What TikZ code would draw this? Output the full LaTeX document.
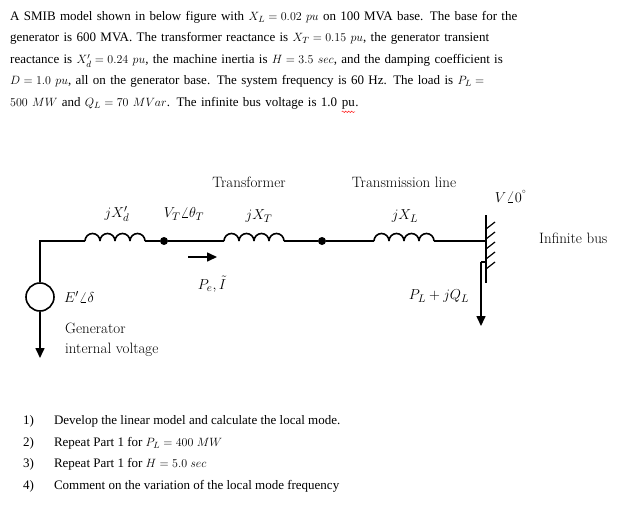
\documentclass[tikz,border=0pt]{standalone}
\usepackage{amsmath}
\usepackage{fontspec}
\setmainfont{Liberation Serif}
\newfontfamily\lmr{Latin Modern Roman}
\usetikzlibrary{arrows.meta,decorations.pathmorphing}
\tikzset{
  wire/.style={line width=1.6pt},
  lbl/.style={font=\lmr\fontsize{15}{17}\selectfont, inner sep=0pt},
  para/.style={font=\fontsize{13}{21.5}\selectfont, inner sep=0pt, align=left},
  dotn/.style={circle, fill=black, minimum size=8pt, inner sep=0pt},
  arr/.style={wire, -{Triangle[length=10pt,width=9pt]}},
  wavy/.style={red, decorate, decoration={snake, amplitude=0.8pt, segment length=3pt}}
}
\newcommand{\coil}[2]{% start x, y
  \foreach \k in {0,...,3}{\draw[wire] ({#1+\k*15},#2) arc[start angle=180,end angle=360,radius=7.5];}}
\begin{document}
\begin{tikzpicture}[x=1pt,y=-1pt]
\useasboundingbox (0,0) rectangle (627,517);
\node[para, anchor=north west, text width=607pt] (txt) at (10,11) {\thickmuskip=5mu\medmuskip=4mu\setlength{\parfillskip}{0pt plus 1fil}%
A SMIB model shown in below figure with $X_L=0.02\ pu$ on 100 MVA base. The base for the\linebreak
generator is 600 MVA. The transformer reactance is $X_T=0.15\ pu$, the generator transient\linebreak
reactance is $X_d'=0.24\ pu$, the machine inertia is $H=3.5\ sec$, and the damping coefficient is\linebreak
$D=1.0\ pu$, all on the generator base. The system frequency is 60 Hz. The load is $P_L=$\linebreak
$500\ MW$ and $Q_L=70\ MVar$. The infinite bus voltage is 1.0 \tikz[baseline=0pt]{\node[inner sep=0pt,anchor=base west](pu){pu};\draw[wavy] ([yshift=-2.5pt]pu.south west)--([yshift=-2.5pt]pu.south east);}.};
% circuit
\coordinate (gtop) at (40,241);
\node[circle, draw, line width=1.6pt, minimum size=28pt, inner sep=0pt] (gen) at (40,297) {};
\draw[wire] (gen.north) -- (gtop) -- (85,241);
\coil{85}{241}
\node[dotn] (d1) at (164,241) {};
\draw[wire] (145,241) -- (d1) -- (224,241);
\coil{224}{241}
\node[dotn] (d2) at (322,241) {};
\draw[wire] (284,241) -- (d2) -- (374,241);
\coil{374}{241}
\coordinate (bt) at (486,215);
\coordinate (bb) at (486,283);
\draw[wire] (434,241) -- (486,241);
\draw[wire] (bt) -- (bb);
\foreach \yy in {222,232,242,252,262}{\draw[line width=1.2pt] (486,\yy+7) -- (495,\yy);}
\coordinate (lc) at (481,262);
\coordinate (le) at (481,326);
\draw[wire] (486,262) -- (lc);
\draw[arr] (lc) -- (le);
\coordinate (ge) at (40,358);
\draw[arr] (gen.south) -- (ge);
\coordinate (pa) at (188,257);
\coordinate (pb) at (217,257);
\draw[arr] (pa) -- (pb);
% labels
\node[lbl] (tl) at (249,182) {Transformer};
\node[lbl] (tll) at (404,182) {Transmission line};
\node[lbl] (vb) at (511,196) {$V\angle 0^{^\circ}$};
\node[lbl, anchor=west] (ib) at (539,238) {Infinite bus};
\node[lbl] (lxd) at (117,214) {$jX_d'$};
\node[lbl] (lvt) at (184,214) {$V_T\angle\theta_T$};
\node[lbl] (lxt) at (259,216) {$jX_T$};
\node[lbl] (lxl) at (405,216) {$jX_L$};
\node[lbl, anchor=west] (le2) at (64,297) {$E'\angle\delta$};
\node[lbl] (lpe) at (212,284) {$P_e,\tilde I$};
\node[lbl] (lpl) at (439,296) {$P_L+jQ_L$};
\node[lbl, anchor=west, align=left, font=\lmr\fontsize{15}{20}\selectfont] (gl) at (65,340) {Generator\\internal voltage};
% list
\node[para, anchor=north west] (l1) at (23,415) {1)\hspace{20pt}Develop the linear model and calculate the local mode.};
\node[para, anchor=north west] (l2) at (23,437) {2)\hspace{20pt}Repeat Part 1 for $P_L=400\ MW$};
\node[para, anchor=north west] (l3) at (23,458) {3)\hspace{20pt}Repeat Part 1 for $H=5.0\ sec$};
\node[para, anchor=north west] (l4) at (23,480) {4)\hspace{20pt}Comment on the variation of the local mode frequency};
\end{tikzpicture}
\end{document}
